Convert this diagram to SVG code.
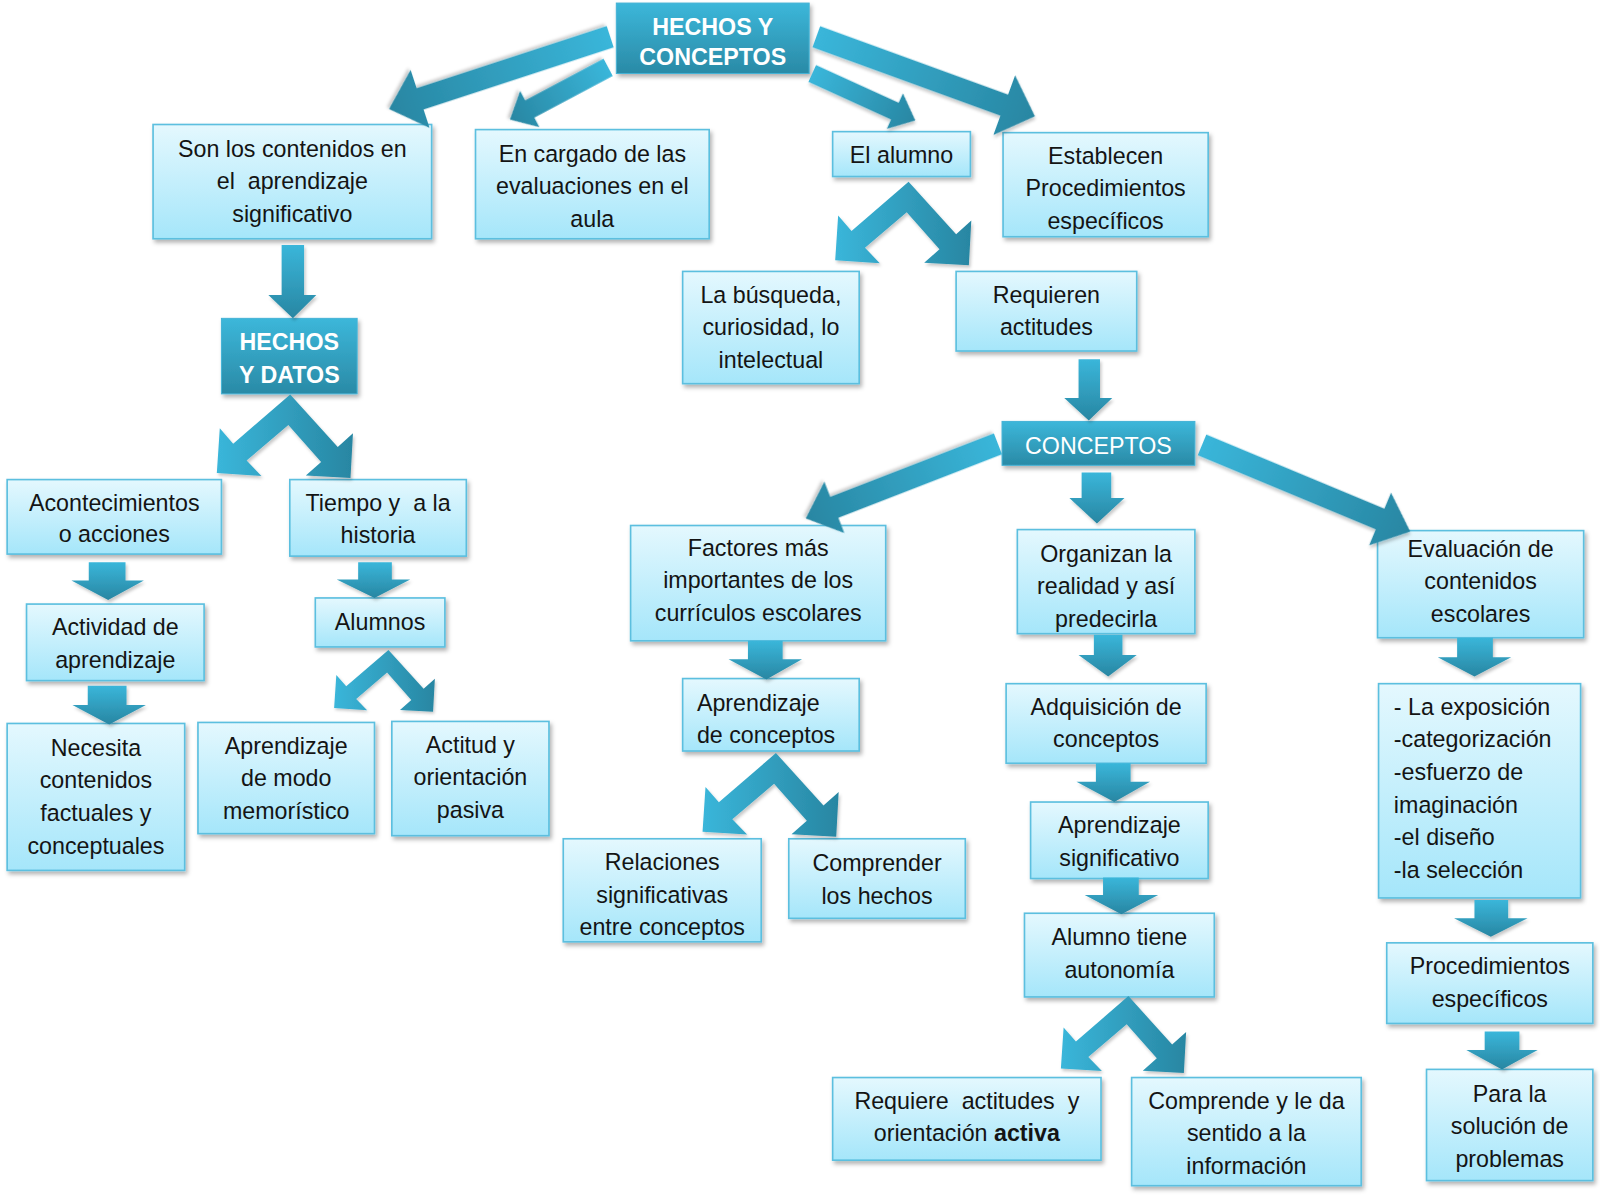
<svg xmlns="http://www.w3.org/2000/svg" xmlns:xlink="http://www.w3.org/1999/xlink" width="1600" height="1203" viewBox="0 0 1600 1203">
<defs>
<style>
.box{fill:url(#gBox);stroke:#5bbfdf;stroke-width:1.6;filter:url(#sh)}
.dbox{fill:url(#gDark);stroke:#45b3d6;stroke-width:1;filter:url(#sh)}
.t{font-family:"Liberation Sans",Arial,sans-serif;font-size:22.8px;fill:#141414;text-anchor:middle}
.tl{font-family:"Liberation Sans",Arial,sans-serif;font-size:22.8px;fill:#141414;text-anchor:start}
.tw{font-family:"Liberation Sans",Arial,sans-serif;font-size:22.8px;fill:#ffffff;text-anchor:middle}
.b{font-weight:bold}
.arD{fill:url(#gArV);filter:url(#sh2)}
.arL{fill:url(#gArH);filter:url(#sh2)}
.chev{fill:url(#gArH);filter:url(#sh2)}
</style>
<linearGradient id="gBox" x1="0" y1="0" x2="0" y2="1"><stop offset="0" stop-color="#e4f8fe"/><stop offset="1" stop-color="#a5e6fa"/></linearGradient>
<linearGradient id="gDark" x1="0" y1="0" x2="0" y2="1"><stop offset="0" stop-color="#3cb7da"/><stop offset="1" stop-color="#2a8aa6"/></linearGradient>
<linearGradient id="gArV" x1="0" y1="0" x2="0" y2="1"><stop offset="0" stop-color="#3ab6da"/><stop offset="1" stop-color="#2886a2"/></linearGradient>
<linearGradient id="gArH" x1="0" y1="0" x2="1" y2="0"><stop offset="0" stop-color="#3ab6da"/><stop offset="1" stop-color="#2886a2"/></linearGradient>
<filter id="sh" x="-10%" y="-10%" width="125%" height="135%"><feDropShadow dx="2" dy="3" stdDeviation="2" flood-color="#000" flood-opacity="0.3"/></filter>
<filter id="sh2" x="-20%" y="-20%" width="140%" height="150%"><feDropShadow dx="1.5" dy="2.5" stdDeviation="1.8" flood-color="#000" flood-opacity="0.22"/></filter>
<path id="chevShape" d="M0.9,-15 L47.5,36.5 L62.4,23.2 L60,67 L16.2,64.6 L31.2,51.3 L-0.9,15 L-41.8,49.9 L-27.3,64.9 L-71,62 L-68.1,18.3 L-55,33.3 Z"/>
</defs>
<rect x="0" y="0" width="1600" height="1203" fill="#ffffff"/>
<g transform="scale(1.0204)">
<g id="nodes">
<g id="n-hechos-conceptos"><rect class="dbox" x="604" y="3" width="189" height="69"/><text class="tw b"><tspan x="698.5" y="34.5">HECHOS Y</tspan><tspan x="698.5" y="64">CONCEPTOS</tspan></text></g>
<g id="n-son-los"><rect class="box" x="150" y="122" width="273" height="112"/><text class="t" xml:space="preserve"><tspan x="286.5" y="153.5">Son los contenidos en</tspan><tspan x="286.5" y="185.5">el  aprendizaje</tspan><tspan x="286.5" y="217.5">significativo</tspan></text></g>
<g id="n-encargado"><rect class="box" x="466" y="127" width="229" height="107"/><text class="t"><tspan x="580.5" y="158.5">En cargado de las</tspan><tspan x="580.5" y="190.5">evaluaciones en el</tspan><tspan x="580.5" y="222.5">aula</tspan></text></g>
<g id="n-el-alumno"><rect class="box" x="816" y="129" width="135" height="44"/><text class="t"><tspan x="883.5" y="159.5">El alumno</tspan></text></g>
<g id="n-establecen"><rect class="box" x="983" y="130" width="201" height="102"/><text class="t"><tspan x="1083.5" y="160.5">Establecen</tspan><tspan x="1083.5" y="192.5">Procedimientos</tspan><tspan x="1083.5" y="224.5">específicos</tspan></text></g>
<g id="n-hechos-datos"><rect class="dbox" x="217" y="312" width="133" height="74"/><text class="tw b"><tspan x="283.5" y="343">HECHOS</tspan><tspan x="283.5" y="375">Y DATOS</tspan></text></g>
<g id="n-busqueda"><rect class="box" x="669" y="266" width="173" height="110"/><text class="t"><tspan x="755.5" y="296.5">La búsqueda,</tspan><tspan x="755.5" y="328.5">curiosidad, lo</tspan><tspan x="755.5" y="360.5">intelectual</tspan></text></g>
<g id="n-requieren"><rect class="box" x="937" y="266" width="177" height="78"/><text class="t"><tspan x="1025.5" y="296.5">Requieren</tspan><tspan x="1025.5" y="328.5">actitudes</tspan></text></g>
<g id="n-conceptos"><rect class="dbox" x="982" y="413" width="189" height="43"/><text class="tw"><tspan x="1076.5" y="445">CONCEPTOS</tspan></text></g>
<g id="n-acontecimientos"><rect class="box" x="7" y="470" width="210" height="73"/><text class="t"><tspan x="112" y="500.5">Acontecimientos</tspan><tspan x="112" y="531.5">o acciones</tspan></text></g>
<g id="n-tiempo"><rect class="box" x="284" y="470" width="173" height="75"/><text class="t" xml:space="preserve"><tspan x="370.5" y="500.5">Tiempo y  a la</tspan><tspan x="370.5" y="532.5">historia</tspan></text></g>
<g id="n-actividad"><rect class="box" x="26" y="592" width="174" height="75"/><text class="t"><tspan x="113" y="622.5">Actividad de</tspan><tspan x="113" y="654.5">aprendizaje</tspan></text></g>
<g id="n-alumnos"><rect class="box" x="309" y="586" width="127" height="48"/><text class="t"><tspan x="372.5" y="617.5">Alumnos</tspan></text></g>
<g id="n-necesita"><rect class="box" x="7" y="709" width="174" height="144"/><text class="t"><tspan x="94" y="740.5">Necesita</tspan><tspan x="94" y="772.5">contenidos</tspan><tspan x="94" y="804.5">factuales y</tspan><tspan x="94" y="836.5">conceptuales</tspan></text></g>
<g id="n-memoristico"><rect class="box" x="194" y="708" width="173" height="109"/><text class="t"><tspan x="280.5" y="738.5">Aprendizaje</tspan><tspan x="280.5" y="770.5">de modo</tspan><tspan x="280.5" y="802.5">memorístico</tspan></text></g>
<g id="n-actitud"><rect class="box" x="384" y="707" width="154" height="112"/><text class="t"><tspan x="461" y="737.5">Actitud y</tspan><tspan x="461" y="769.5">orientación</tspan><tspan x="461" y="801.5">pasiva</tspan></text></g>
<g id="n-factores"><rect class="box" x="618" y="515" width="250" height="113"/><text class="t"><tspan x="743" y="544.5">Factores más</tspan><tspan x="743" y="576.5">importantes de los</tspan><tspan x="743" y="608.5">currículos escolares</tspan></text></g>
<g id="n-organizan"><rect class="box" x="997" y="519" width="174" height="102"/><text class="t"><tspan x="1084" y="550.5">Organizan la</tspan><tspan x="1084" y="582.5">realidad y así</tspan><tspan x="1084" y="614.5">predecirla</tspan></text></g>
<g id="n-evaluacion"><rect class="box" x="1350" y="520" width="202" height="105"/><text class="t"><tspan x="1451" y="545.5">Evaluación de</tspan><tspan x="1451" y="577.5">contenidos</tspan><tspan x="1451" y="609.5">escolares</tspan></text></g>
<g id="n-apr-conceptos"><rect class="box" x="669" y="665" width="173" height="71"/><text class="tl"><tspan x="683" y="696.5">Aprendizaje</tspan><tspan x="683" y="728.5">de conceptos</tspan></text></g>
<g id="n-adquisicion"><rect class="box" x="986" y="670" width="196" height="78"/><text class="t"><tspan x="1084" y="700.5">Adquisición de</tspan><tspan x="1084" y="732.5">conceptos</tspan></text></g>
<g id="n-apr-significativo"><rect class="box" x="1010" y="786" width="174" height="75"/><text class="t"><tspan x="1097" y="816.5">Aprendizaje</tspan><tspan x="1097" y="848.5">significativo</tspan></text></g>
<g id="n-relaciones"><rect class="box" x="552" y="822" width="194" height="101"/><text class="t"><tspan x="649" y="852.5">Relaciones</tspan><tspan x="649" y="884.5">significativas</tspan><tspan x="649" y="916.5">entre conceptos</tspan></text></g>
<g id="n-comprender"><rect class="box" x="773" y="822" width="173" height="78"/><text class="t"><tspan x="859.5" y="853.5">Comprender</tspan><tspan x="859.5" y="885.5">los hechos</tspan></text></g>
<g id="n-alumno-tiene"><rect class="box" x="1004" y="895" width="186" height="82"/><text class="t"><tspan x="1097" y="926.5">Alumno tiene</tspan><tspan x="1097" y="958.5">autonomía</tspan></text></g>
<g id="n-exposicion"><rect class="box" x="1351" y="670" width="198" height="210"/><text class="tl"><tspan x="1366" y="700.5">- La exposición</tspan><tspan x="1366" y="732.5">-categorización</tspan><tspan x="1366" y="764.5">-esfuerzo de</tspan><tspan x="1366" y="796.5">imaginación</tspan><tspan x="1366" y="828.5">-el diseño</tspan><tspan x="1366" y="860.5">-la selección</tspan></text></g>
<g id="n-procedimientos"><rect class="box" x="1359" y="924" width="202" height="79"/><text class="t"><tspan x="1460" y="954.5">Procedimientos</tspan><tspan x="1460" y="986.5">específicos</tspan></text></g>
<g id="n-para-la"><rect class="box" x="1398" y="1048" width="163" height="109"/><text class="t"><tspan x="1479.5" y="1079.5">Para la</tspan><tspan x="1479.5" y="1111.5">solución de</tspan><tspan x="1479.5" y="1143.5">problemas</tspan></text></g>
<g id="n-requiere"><rect class="box" x="816" y="1056" width="263" height="81"/><text class="t" xml:space="preserve"><tspan x="947.5" y="1086.5">Requiere  actitudes  y</tspan><tspan x="947.5" y="1118.5">orientación <tspan class="b">activa</tspan></tspan></text></g>
<g id="n-comprende"><rect class="box" x="1109" y="1056" width="225" height="106"/><text class="t"><tspan x="1221.5" y="1086.5">Comprende y le da</tspan><tspan x="1221.5" y="1118.5">sentido a la</tspan><tspan x="1221.5" y="1150.5">información</tspan></text></g>
</g>
<g id="connectors">
<path class="arL" transform="translate(598,36) rotate(161.9)" d="M0,-11 H196 V-30 L228,0 L196,30 V11 H0 Z"/>
<path class="arL" transform="translate(596,66) rotate(152)" d="M0,-9.5 H87 V-20 L109,0 L87,20 V9.5 H0 Z"/>
<path class="arL" transform="translate(796,72) rotate(24.5)" d="M0,-9 H89 V-19 L111,0 L89,19 V9 H0 Z"/>
<path class="arL" transform="translate(800,36) rotate(20)" d="M0,-11 H196 V-31 L228,0 L196,31 V11 H0 Z"/>
<path class="arL" transform="translate(978,435) rotate(158.8)" d="M0,-11 H172 V-27 L202,0 L172,27 V11 H0 Z"/>
<path class="arL" transform="translate(1178,436) rotate(22.6)" d="M0,-11 H189 V-28 L221,0 L189,28 V11 H0 Z"/>
<path class="arD" d="M276,240 H298 V289 H310 L287,312 L263,289 H276 Z"/>
<path class="arD" d="M87,551 H123 V569 H141 L106,588 L70,569 H87 Z"/>
<path class="arD" d="M86,672 H124 V691 H143 L107,710 L71,691 H86 Z"/>
<path class="arD" d="M351,551 H384 V568 H402 L367,586 L330,568 H351 Z"/>
<path class="arD" d="M1057,352 H1078 V390 H1090 L1067,412 L1043,390 H1057 Z"/>
<path class="arD" d="M1060,463 H1089 V488 H1102 L1075,513 L1048,488 H1060 Z"/>
<path class="arD" d="M733,628 H767 V646 H786 L751,666 L714,646 H733 Z"/>
<path class="arD" d="M1072,622 H1100 V642 H1114 L1086,663 L1057,642 H1072 Z"/>
<path class="arD" d="M1074,748 H1108 V766 H1127 L1092,786 L1055,766 H1074 Z"/>
<path class="arD" d="M1081,860 H1116 V877 H1135 L1099,896 L1063,877 H1081 Z"/>
<path class="arD" d="M1428,625 H1463 V644 H1481 L1445,663 L1409,644 H1428 Z"/>
<path class="arD" d="M1445,882 H1478 V900 H1497 L1461,918 L1425,900 H1445 Z"/>
<path class="arD" d="M1455,1011 H1489 V1029 H1507 L1472,1048 L1437,1029 H1455 Z"/>
<use class="chev" xlink:href="#chevShape" href="#chevShape" transform="translate(283.5,401.5)"/>
<use class="chev" xlink:href="#chevShape" href="#chevShape" transform="translate(889.5,193)"/>
<use class="chev" xlink:href="#chevShape" href="#chevShape" transform="translate(380,648) scale(0.74)"/>
<use class="chev" xlink:href="#chevShape" href="#chevShape" transform="translate(759.5,753)"/>
<use class="chev" xlink:href="#chevShape" href="#chevShape" transform="translate(1105,990) scale(0.92)"/>
</g>
</g>
</svg>
